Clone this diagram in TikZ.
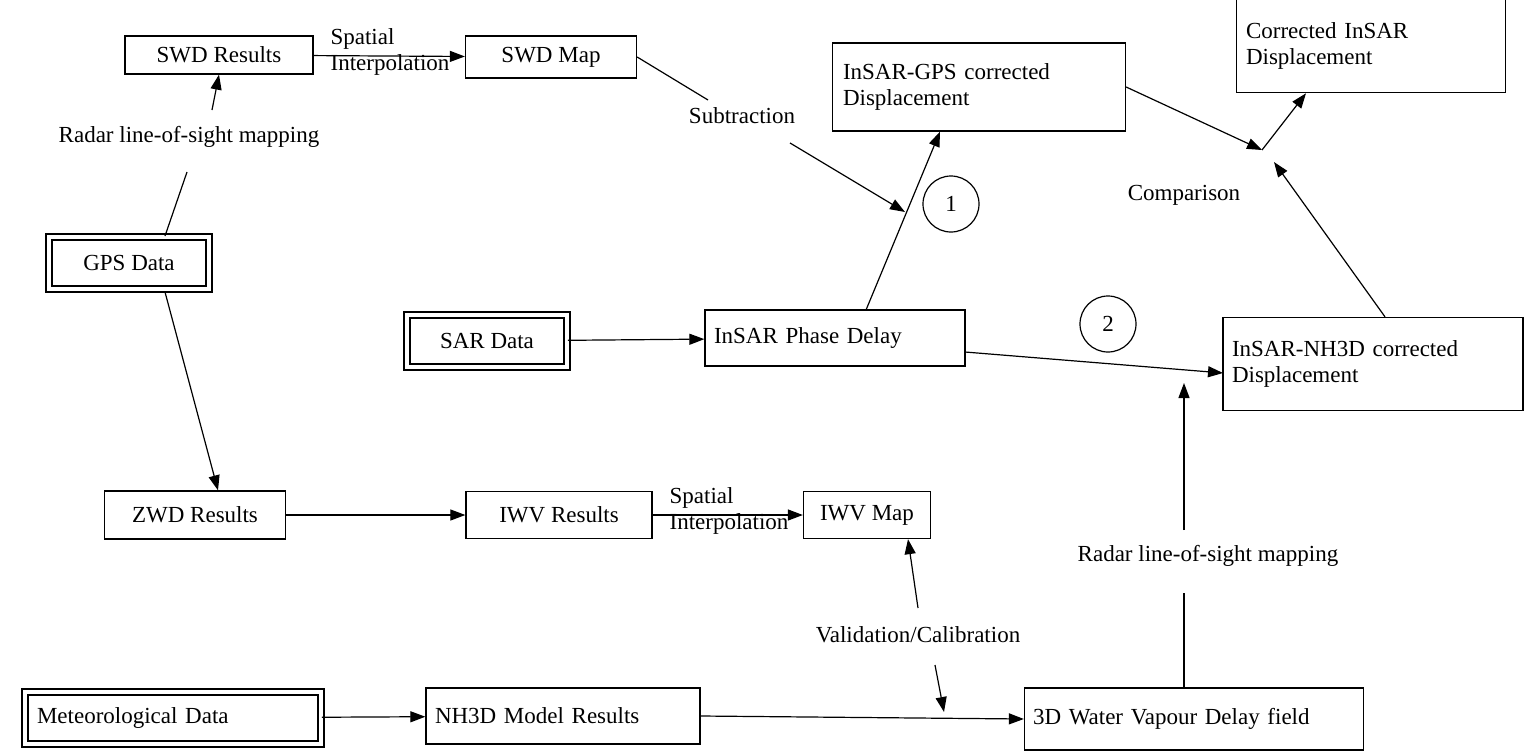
\documentclass[tikz,border=0pt]{standalone}
\usepackage{fontspec}
\setmainfont{Liberation Serif}
\usetikzlibrary{calc,arrows.meta}
\tikzset{
  box/.style={draw, line width=1.3pt, inner sep=0pt, font=\fontsize{23}{26}\selectfont},
  dbox/.style={box, double, double distance=4pt, line width=1.6pt},
  lbl/.style={font=\fontsize{23}{26}\selectfont, align=left, inner sep=1pt},
  arr/.style={-{Triangle[length=15pt,width=11pt]}, line width=1.2pt},
  ln/.style={line width=1.2pt},
}
\begin{document}
\begin{tikzpicture}[x=1pt,y=-1pt]
				\useasboundingbox (0,0) rectangle (1524,753);
				
				\node [box, minimum width=188, minimum height=38] (swdres) at (219,55) {SWD Results};
				\node [box, minimum width=171, minimum height=42] (swdmap) at (551,57) {SWD Map};
				\node [box, minimum width=293, minimum height=88, align=left, text width=272] (gpscor) at (979,87) {InSAR-GPS corrected\\Displacement};
				\node [box, minimum width=269, minimum height=93, align=left, text width=250, anchor=north] (final) at (1371,-1) {Corrected InSAR\\Displacement\\[20pt]};
				\node [dbox, minimum width=160, minimum height=52] (gps) at (129,263) {GPS Data};
				\node [dbox, minimum width=160, minimum height=52] (sar) at (487,341) {SAR Data};
				\node [box, minimum width=260, minimum height=56, align=left, text width=242] (phase) at (835,338) {InSAR Phase Delay\\[6pt]};
				\node [box, minimum width=300, minimum height=93, align=left, text width=282] (nhcor) at (1373,364) {InSAR-NH3D corrected\\Displacement};
				\node [box, minimum width=181, minimum height=48] (zwd) at (195,515) {ZWD Results};
				\node [box, minimum width=186, minimum height=47] (iwvres) at (559,515) {IWV Results};
				\node [box, minimum width=127, minimum height=47] (iwvmap) at (867,515) {IWV Map};
				\node [dbox, minimum width=296, minimum height=52, align=left, text width=272] (met) at (173,718) {Meteorological Data};
				\node [box, minimum width=274, minimum height=56, align=left, text width=256] (nh3d) at (563,716) {NH3D Model Results};
				\node [box, minimum width=339, minimum height=62, align=left, text width=322] (wvd) at (1194,719) {3D Water Vapour Delay field};
				
				\node [draw, ln, circle, minimum size=56, lbl] (c1) at (951,204) {1};
				\node [draw, ln, circle, minimum size=56, lbl] (c2) at (1108,324) {2};
				
				% labels
				\node [lbl] (swdint) at (390,52) {Spatial\\Interpolation};
				\node [lbl] (iwvint) at (729,511) {Spatial\\Interpolation};
				\node [lbl] (rlos1) at (189,137) {Radar line-of-sight mapping};
				\node [lbl] (rlos2) at (1208,556) {Radar line-of-sight mapping};
				\node [lbl] (subtr) at (742,116) {Subtraction};
				\node [lbl] (comp) at (1184,195) {Comparison};
				\node [lbl] (valid) at (918,635) {Validation/Calibration};
				
				\coordinate (p1) at (187,172);
				\coordinate (p2) at (212,110);
				\coordinate (p3) at (708,100);
				\coordinate (p4) at (790,143);
				\coordinate (p5) at (905,212);
				\coordinate (p6) at (1262,150);
				\coordinate (p7) at (1184,593);
				\coordinate (p8) at (1184,530);
				\coordinate (p9) at (1184,383);
				\coordinate (p10) at (918,608);
				\coordinate (p11) at (935,665);
				\coordinate (p12) at (944,712);
				
				\draw [arr] (swdres) -- (swdmap);
				\draw [ln] (165,236) -- (p1);
				\draw [arr] (p2) -- (swdres.south);
				\draw [ln] (swdmap.east) -- (p3);
				\draw [arr] (p4) -- (p5);
				\draw [arr] (866,310) -- (940,0 |- gpscor.south);
				\draw [arr] (gpscor.east) -- (p6);
				\draw [arr] (p6) -- (1306,0 |- final.south);
				\draw [arr] (1385,0 |- nhcor.north) -- (1274,162);
				\draw [arr] (sar) -- (phase);
				\draw [arr] (965,352) -- (1223,373);
				\draw [ln] (1184,0 |- wvd.north) -- (p7);
				\draw [arr] (p8) -- (p9);
				\draw [arr] (165,292) -- (218,0 |- zwd.north);
				\draw [arr] (zwd) -- (iwvres);
				\draw [arr] (iwvres) -- (iwvmap);
				\draw [arr] (p10) -- (908,0 |- iwvmap.south);
				\draw [arr] (p11) -- (p12);
				\draw [arr] (met) -- (nh3d);
				\draw [arr] (nh3d.east) -- (wvd.west);
\end{tikzpicture}
\end{document}
